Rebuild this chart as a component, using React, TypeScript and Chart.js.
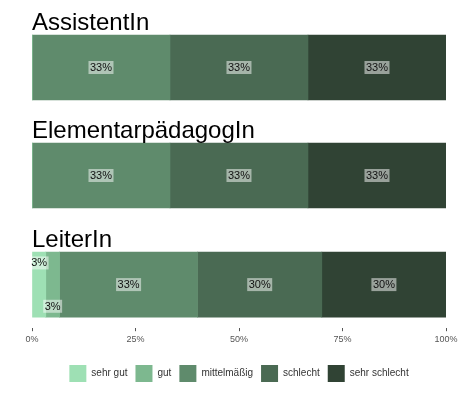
import React, { useEffect, useRef } from "react";
import { Chart, registerables } from "chart.js";

Chart.register(...registerables);

const FONT = '"Liberation Sans", Arial, Helvetica, sans-serif';
Chart.defaults.font.family = FONT;

// ---- data ----
const groups = ["AssistentIn", "ElementarpädagogIn", "LeiterIn"];
const ratings = ["sehr gut", "gut", "mittelmäßig", "schlecht", "sehr schlecht"];
const assistentValues = [0, 0, 33.33, 33.33, 33.34];
const elementarValues = [0, 0, 33.33, 33.33, 33.34];
const leiterValues = [3.33, 3.33, 33.34, 30, 30];
const xTicks = [0, 25, 50, 75, 100];
const ratingColors = ["#9ee0b4", "#7db88f", "#5f8b6c", "#4a6a53", "#304334"];

const groupValues = [assistentValues, elementarValues, leiterValues];

const facetTitlePlugin = {
  id: "facetTitle",
  afterDraw(chart: any, _args: any, opts: any) {
    const el = chart.getDatasetMeta(0).data[0];
    if (!el) return;
    const top = el.y - el.height / 2;
    const ctx = chart.ctx;
    ctx.save();
    ctx.font = `24px ${FONT}`;
    ctx.fillStyle = "#000";
    ctx.textAlign = "left";
    ctx.textBaseline = "alphabetic";
    ctx.fillText(opts.text, chart.chartArea.left, top - 5);
    ctx.restore();
  },
};

const barLabelPlugin = {
  id: "barLabels",
  afterDatasetsDraw(chart: any) {
    const ctx = chart.ctx;
    ctx.save();
    ctx.font = `11px ${FONT}`;
    ctx.textAlign = "center";
    ctx.textBaseline = "middle";
    let narrow = 0;
    chart.data.datasets.forEach((ds: any, di: number) => {
      const meta = chart.getDatasetMeta(di);
      meta.data.forEach((el: any, i: number) => {
        const v = ds.data[i];
        if (!v) return;
        const text = Math.round(v) + "%";
        const cx = (el.x + el.base) / 2;
        const w = Math.abs(el.x - el.base);
        const tw = ctx.measureText(text).width;
        let cy = el.y;
        if (tw + 6 > w) {
          cy += (narrow % 2 === 0 ? -1 : 1) * (el.height / 3);
          narrow++;
        }
        ctx.fillStyle = "rgba(255,255,255,0.5)";
        ctx.fillRect(cx - tw / 2 - 1.5, cy - 6.5, tw + 3, 13);
        ctx.fillStyle = "#111";
        ctx.fillText(text, cx, cy + 0.5);
      });
    });
    ctx.restore();
  },
};

type FacetProps = {
  index: number;
  top: number;
  height: number;
  padTop: number;
  padBottom: number;
  showAxis: boolean;
};

function Facet({ index, top, height, padTop, padBottom, showAxis }: FacetProps) {
  const ref = useRef<HTMLCanvasElement | null>(null);
  useEffect(() => {
    if (!ref.current) return;
    const values = groupValues[index];
    const chart = new Chart(ref.current, {
      type: "bar",
      data: {
        labels: [groups[index]],
        datasets: ratings.map((r, i) => ({
          label: r,
          data: [values[i]],
          backgroundColor: ratingColors[i],
          borderWidth: 0,
          barThickness: 65,
        })),
      },
      options: {
        indexAxis: "y",
        animation: false,
        responsive: false,
        layout: { padding: { top: padTop, left: 32, right: 28, bottom: padBottom } },
        scales: {
          x: {
            stacked: true,
            min: 0,
            max: 100,
            display: showAxis,
            afterBuildTicks: (scale: any) => {
              scale.ticks = xTicks.map((v) => ({ value: v }));
            },
            afterFit: (scale: any) => {
              if (showAxis) scale.height += 9;
            },
            ticks: {
              callback: (v: any) => v + "%",
              font: { size: 9, family: FONT },
              color: "#555",
              padding: 3,
              maxRotation: 0,
              autoSkip: false,
            },
            grid: {
              drawOnChartArea: false,
              drawTicks: true,
              tickLength: 3,
              color: "#555",
            },
            border: { display: false },
          },
          y: { stacked: true, display: false },
        },
        plugins: {
          legend: {
            display: showAxis,
            position: "bottom",
            labels: {
              boxWidth: 17,
              boxHeight: 17,
              padding: 8,
              color: "#333",
              font: { size: 10, family: FONT },
            },
          },
          tooltip: { enabled: false },
          facetTitle: { text: groups[index] },
        } as any,
      },
      plugins: [facetTitlePlugin, barLabelPlugin],
    });
    return () => chart.destroy();
  }, [index, padTop, padBottom, showAxis]);

  return (
    <div style={{ position: "absolute", left: 0, top, width: 474, height }}>
      <canvas ref={ref} width={474} height={height} style={{ display: "block" }} />
    </div>
  );
}

export default function App() {
  return (
    <div
      style={{
        position: "fixed",
        left: 0,
        top: 0,
        width: 474,
        height: 395,
        background: "#fff",
        overflow: "hidden",
      }}
    >
      <Facet index={0} top={0} height={111} padTop={24} padBottom={0} showAxis={false} />
      <Facet index={1} top={111} height={108} padTop={21} padBottom={0} showAxis={false} />
      <Facet index={2} top={219} height={176} padTop={22} padBottom={3} showAxis={true} />
    </div>
  );
}
